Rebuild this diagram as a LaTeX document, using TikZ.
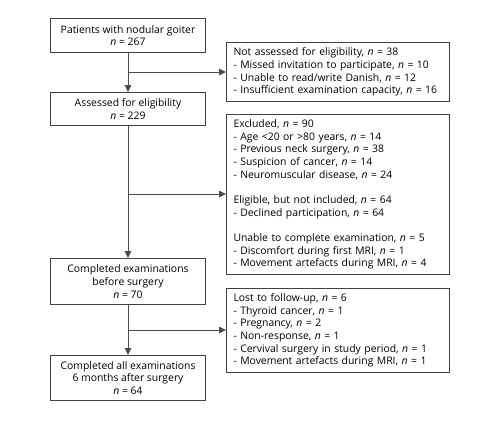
\documentclass[tikz,border=0pt]{standalone}
\usepackage{fontspec}
\setmainfont{Open Sans}
\usetikzlibrary{arrows.meta}
\definecolor{boxc}{gray}{0.25}
\definecolor{linec}{gray}{0.3}
\newcommand{\fsz}{\fontsize{10.4}{12.67}\selectfont}
\newcommand{\nn}{\textit{n}}
\begin{document}
\begin{tikzpicture}[x=1pt,y=-1pt,
  lbox/.style={draw=boxc, line width=1pt, font=\fsz, align=center,
    minimum width=155pt, inner sep=0pt, anchor=north west},
  rbox/.style={draw=boxc, line width=1pt, font=\fsz, align=left,
    text width=209pt, inner xsep=7pt, inner ysep=0pt, anchor=north west},
  conn/.style={draw=linec, line width=1pt},
  arr/.style={conn, -{Triangle[length=7pt,width=6.5pt]}}]
\useasboundingbox (0,0) rectangle (499,421);
\fill[white] (0,0) rectangle (499,421);
% left column
\node[lbox, minimum height=34pt] (b1) at (50,18) {Patients with nodular goiter\\\nn{} = 267};
\node[lbox, minimum height=33pt] (b2) at (50,92) {Assessed for eligibility\\\nn{} = 229};
\node[lbox, minimum height=46pt] (b3) at (50,258) {Completed examinations\\before surgery\\\nn{} = 70};
\node[lbox, minimum height=45pt] (b4) at (50,355) {Completed all examinations\\6 months after surgery\\\nn{} = 64};
% right column
\node[rbox, minimum height=59pt] (r1) at (226,42) {Not assessed for eligibility, \nn{} = 38\\
- Missed invitation to participate, \nn{} = 10\\
- Unable to read/write Danish, \nn{} = 12\\
- Insufficient examination capacity, \nn{} = 16};
\node[rbox, minimum height=160pt] (r2) at (226,114) {Excluded, \nn{} = 90\\
- Age <20 or >80 years, \nn{} = 14\\
- Previous neck surgery, \nn{} = 38\\
- Suspicion of cancer, \nn{} = 14\\
- Neuromuscular disease, \nn{} = 24\\[12.67pt]
Eligible, but not included, \nn{} = 64\\
- Declined participation, \nn{} = 64\\[12.67pt]
Unable to complete examination, \nn{} = 5\\
- Discomfort during first MRI, \nn{} = 1\\
- Movement artefacts during MRI, \nn{} = 4};
\node[rbox, minimum height=84pt] (r3) at (226,288) {Lost to follow-up, \nn{} = 6\\
- Thyroid cancer, \nn{} = 1\\
- Pregnancy, \nn{} = 2\\
- Non-response, \nn{} = 1\\
- Cervival surgery in study period, \nn{} = 1\\
- Movement artefacts during MRI, \nn{} = 1};
% branch levels
\coordinate (y1) at (0,72);
\coordinate (y2) at (0,194);
\coordinate (y3) at (0,330);
% connectors
\draw[arr] (b1.south) -- (b2.north);
\draw[arr] (b1.south |- y1) -- (r1.west |- y1);
\draw[arr] (b2.south) -- (b3.north);
\draw[arr] (b2.south |- y2) -- (r2.west |- y2);
\draw[arr] (b3.south) -- (b4.north);
\draw[arr] (b3.south |- y3) -- (r3.west |- y3);
\end{tikzpicture}
\end{document}
